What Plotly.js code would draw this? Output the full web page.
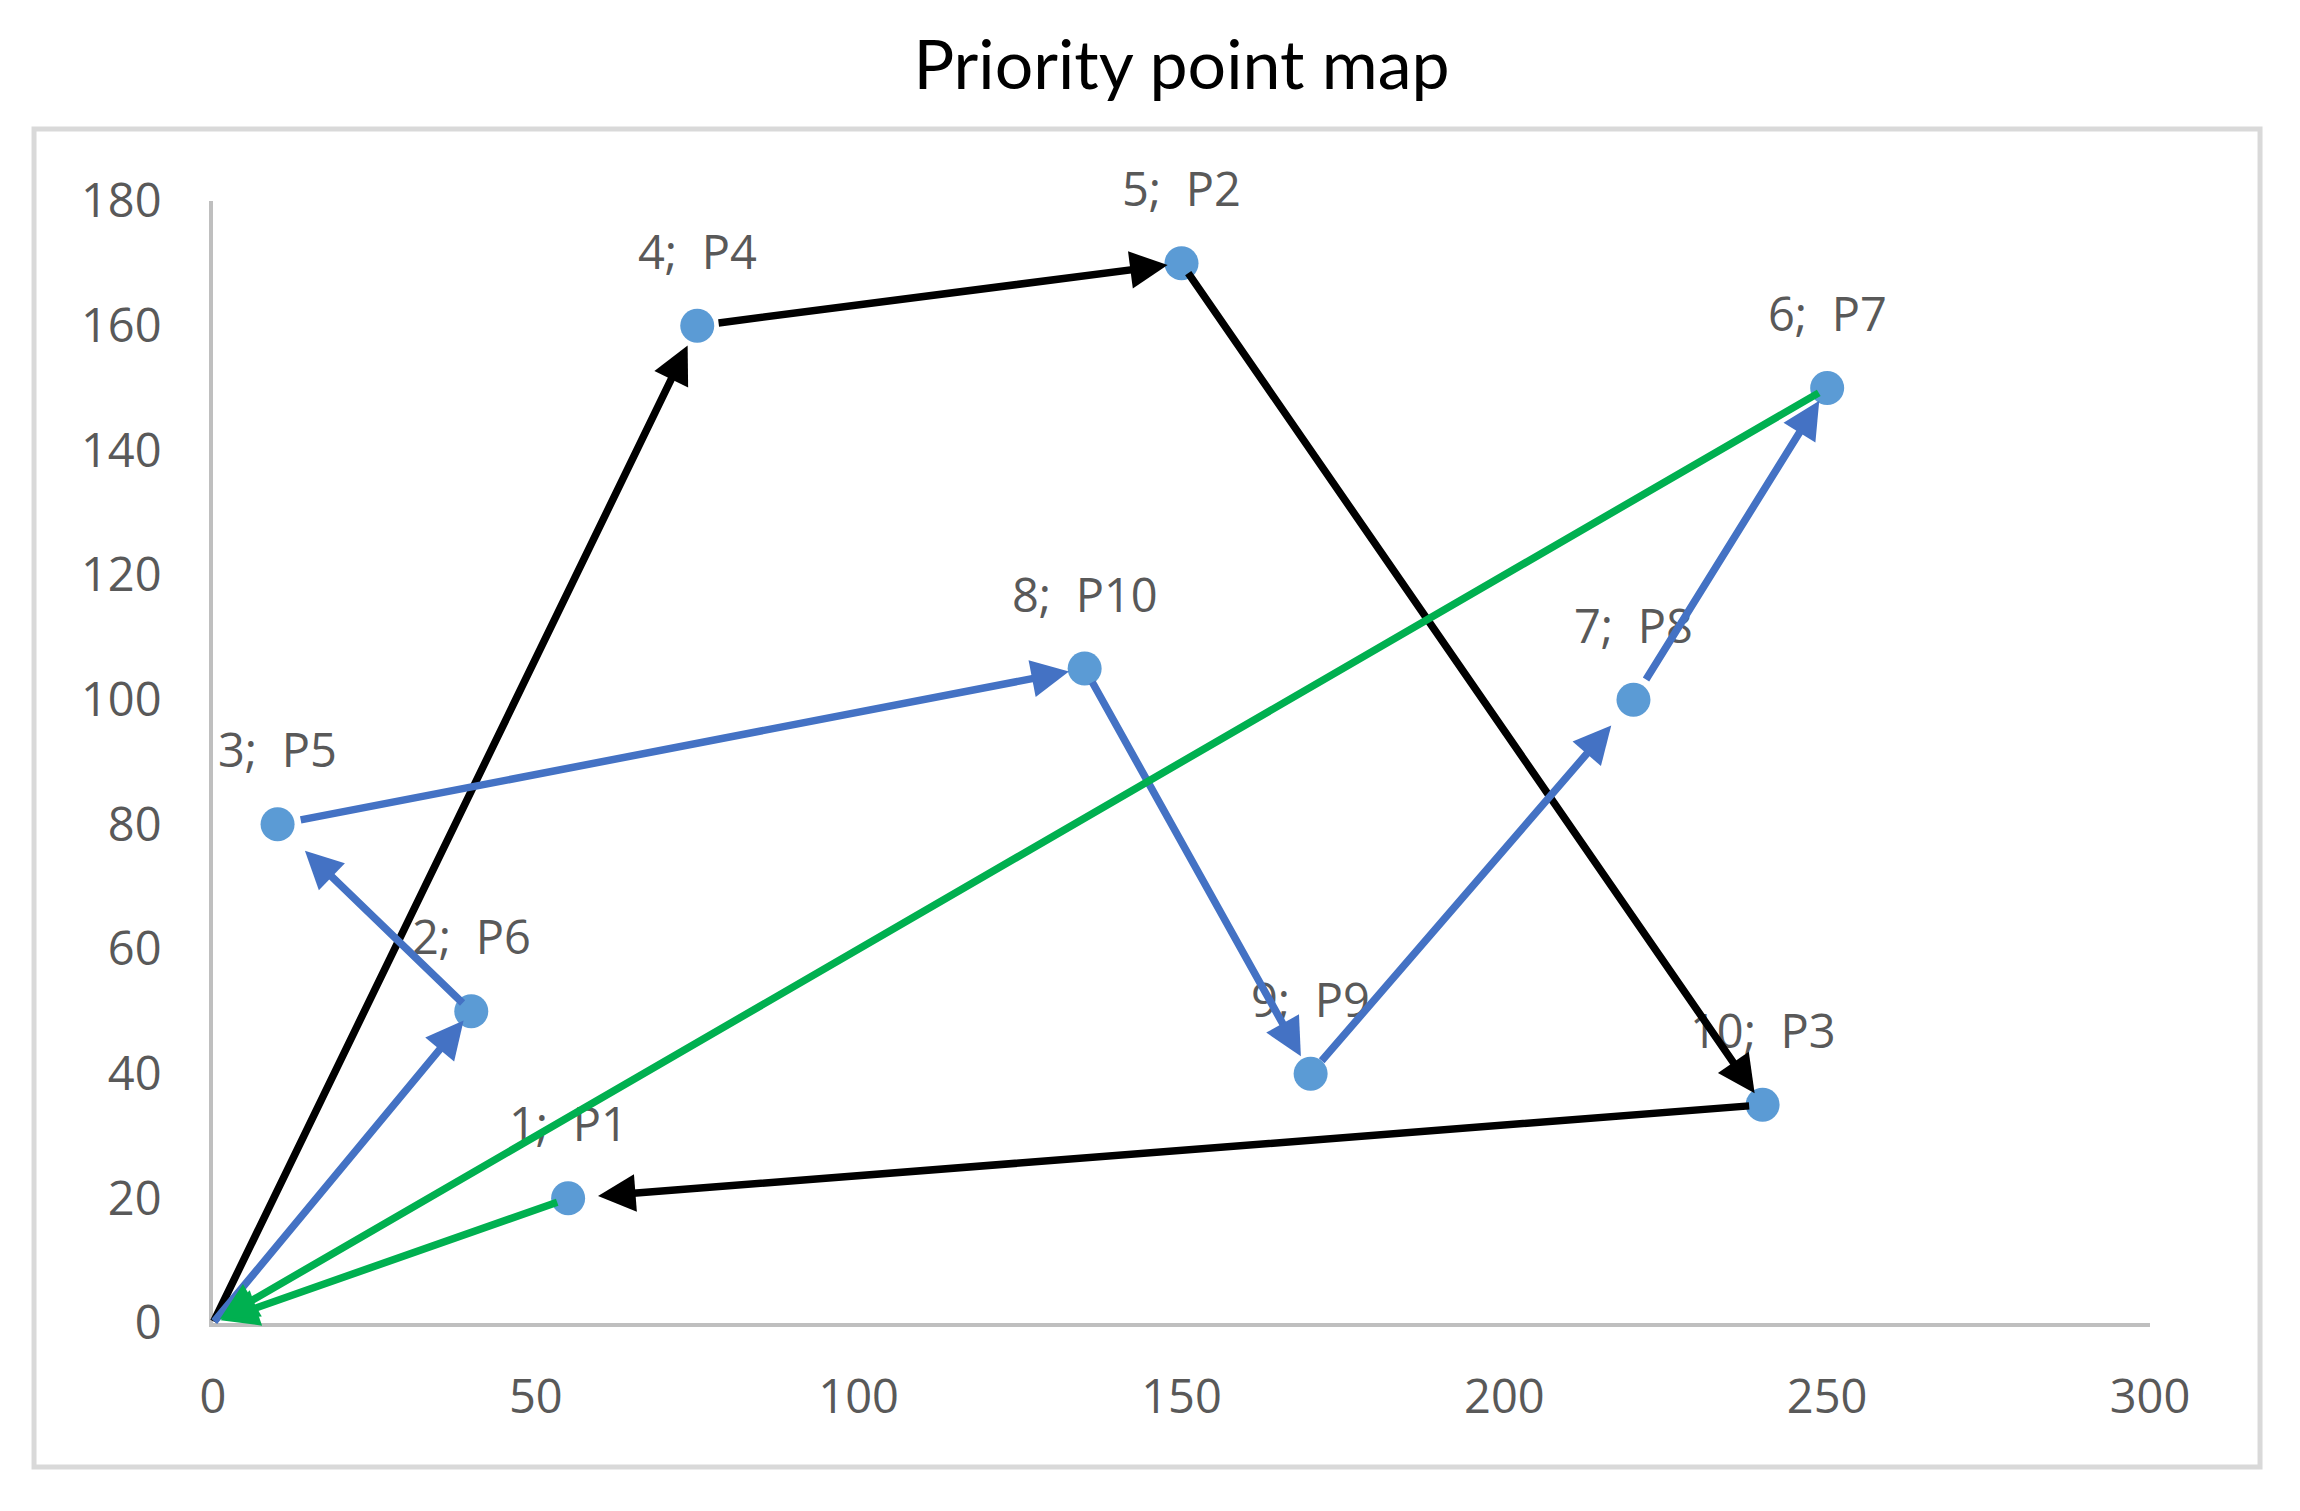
<!DOCTYPE html>
<html>
<head>
<meta charset="utf-8">
<script src="https://cdn.plot.ly/plotly-3.0.1.min.js"></script>
<style>
  html, body { margin: 0; padding: 0; background: #fff; }
  #chart { width: 2300px; height: 1511px; }
</style>
</head>
<body>
<div id="chart"></div>
<script>
// Priority point map — points with their visit order, and the two routes drawn as arrows.

const pointName  = ['P1', 'P6', 'P5', 'P4', 'P2', 'P7', 'P8', 'P10', 'P9', 'P3'];
const pointLabel = ['1;\u00a0 P1', '2;\u00a0 P6', '3;\u00a0 P5', '4;\u00a0 P4', '5;\u00a0 P2',
                    '6;\u00a0 P7', '7;\u00a0 P8', '8;\u00a0 P10', '9;\u00a0 P9', '10;\u00a0 P3'];
const pointX = [55, 40, 10, 75, 150, 250, 220, 135, 170, 240];
const pointY = [20, 50, 80, 160, 170, 150, 100, 105, 40, 35];

const depotX = 0;
const depotY = 0;

// routes, in visiting order ('O' is the depot)
const blackRoute = ['O', 'P4', 'P2', 'P3', 'P1'];
const blueRoute  = ['O', 'P6', 'P5', 'P10', 'P9', 'P8', 'P7'];
const greenLegs  = [['P1', 'O'], ['P7', 'O']];

const xTicks = [0, 50, 100, 150, 200, 250, 300];
const yTicks = [0, 20, 40, 60, 80, 100, 120, 140, 160, 180];

// how far each arrow stops short of its points (px)
const blackEnd = [22, 14, 14, 30], blackStart = [0, 20, 10, 12];
const blueEnd  = [12, 38, 16, 20, 34, 15], blueStart = [0, 10, 22, 14, 15, 22];
const greenEnd = [8, 8], greenStart = [10, 8];

const LABEL_FONT = { family: 'Open Sans, sans-serif', size: 47, color: '#595959' };

function coord(name) {
    if (name === 'O') return [depotX, depotY];
    const i = pointName.indexOf(name);
    return [pointX[i], pointY[i]];
}

function arrow(from, to, color, endOff, startOff) {
    const a = coord(from), b = coord(to);
    return {
        x: b[0], y: b[1], ax: a[0], ay: a[1],
        xref: 'x', yref: 'y', axref: 'x', ayref: 'y',
        text: '', showarrow: true,
        arrowhead: 2, arrowsize: 1.0, arrowwidth: 7.5, arrowcolor: color,
        standoff: endOff, startstandoff: startOff
    };
}

const annotations = [];

// data labels above each point
pointX.forEach((x, i) => {
    annotations.push({
        x: x, y: pointY[i], xref: 'x', yref: 'y',
        text: pointLabel[i], showarrow: false,
        yshift: 75, font: LABEL_FONT
    });
});

for (let i = 0; i < blackRoute.length - 1; i++) {
    annotations.push(arrow(blackRoute[i], blackRoute[i + 1], '#000000', blackEnd[i], blackStart[i]));
}
for (let i = 0; i < blueRoute.length - 1; i++) {
    annotations.push(arrow(blueRoute[i], blueRoute[i + 1], '#4472C4', blueEnd[i], blueStart[i]));
}
greenLegs.forEach((leg, i) => {
    annotations.push(arrow(leg[0], leg[1], '#00B050', greenEnd[i], greenStart[i]));
});

Plotly.newPlot('chart', [{
    x: pointX,
    y: pointY,
    type: 'scatter',
    mode: 'markers',
    marker: { color: '#5B9BD5', size: 34 },
    hoverinfo: 'skip',
    showlegend: false
}], {
    width: 2300,
    height: 1511,
    margin: { l: 213, r: 150, t: 201, b: 188 },
    paper_bgcolor: '#ffffff',
    plot_bgcolor:  '#ffffff',
    title: {
        text: 'Priority point map',
        font: { family: 'Lato, sans-serif', size: 68, color: '#000000' },
        x: 0.5, xref: 'paper', xanchor: 'center',
        y: 0.957, yref: 'container', yanchor: 'middle'
    },
    xaxis: {
        range: [0, 300],
        tickvals: xTicks,
        showgrid: false, zeroline: false,
        showline: true, linecolor: '#BFBFBF', linewidth: 4,
        ticks: '', ticklabelstandoff: 30,
        tickfont: LABEL_FONT
    },
    yaxis: {
        range: [0, 180],
        tickvals: yTicks,
        showgrid: false, zeroline: false,
        showline: true, linecolor: '#BFBFBF', linewidth: 4,
        ticks: '', ticklabelstandoff: 38,
        tickfont: LABEL_FONT
    },
    shapes: [{
        type: 'rect', xref: 'paper', yref: 'paper',
        x0: -0.0924, x1: 1.0568, y0: -0.1283, y1: 1.0642,
        line: { color: '#D9D9D9', width: 5 },
        layer: 'below'
    }],
    annotations: annotations
}, { staticPlot: true });
</script>
</body>
</html>
